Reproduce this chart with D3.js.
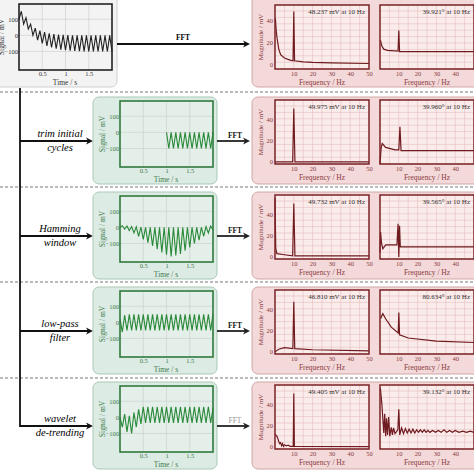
<!DOCTYPE html>
<html><head><meta charset="utf-8">
<script src="https://cdn.jsdelivr.net/npm/d3@7"></script>
<style>body{margin:0;background:#fff}</style></head>
<body><svg id="c" width="474" height="474"></svg>
<script>
// ---------- DATA ----------
const timeStep = 0.05; // s between extrema samples
const timeTicks = [0.5, 1, 1.5];
const signalTicks = [100, 0, -100];
const freqTicks = [10, 20, 30, 40, 50];
const magTicks = [0, 20, 40];
const rowLabels = [["trim initial","cycles"],["Hamming","window"],["low-pass","filter"],["wavelet","de-trending"]];
const magNotes = ["48.237 mV at 10 Hz","49.975 mV at 10 Hz","49.732 mV at 10 Hz","46.810 mV at 10 Hz","49.405 mV at 10 Hz"];
const phaseNotes = ["39.921° at 10 Hz","39.960° at 10 Hz","39.565° at 10 Hz","80.634° at 10 Hz","39.132° at 10 Hz"];

const sigOriginal = [100,150,70,110,40,70,0,45,-30,30,-50,20,-65,12,-75,8,-82,5,-88,3,-92,2,-95,1,-97,0,-98,0,-99,0,-100,0,-100,0,-100,0,-100,0,-100,0,-100];
const sigTrim = [null,null,null,null,null,null,null,null,null,null,null,null,null,null,null,null,null,null,null,null,0,-100,0,-100,0,-100,0,-100,0,-100,0,-100,0,-100,0,-100,0,-100,0,-100,0];
const sigHamming = [0,10,-10,8,-20,5,-35,3,-55,2,-75,0,-95,0,-115,0,-135,0,-155,0,-170,0,-180,0,-175,0,-165,0,-145,0,-125,0,-100,0,-80,0,-55,5,-35,8,-15];
const sigLowpass = [20,-60,45,-50,50,-50,50,-50,50,-50,50,-50,50,-50,50,-50,50,-50,50,-50,50,-50,50,-50,50,-50,50,-50,50,-50,50,-50,50,-50,50,-50,50,-50,50,-50,50];
const sigWavelet = [0,-60,20,-90,10,-100,30,-60,50,-40,65,-35,65,-35,65,-35,65,-35,65,-35,65,-35,65,-35,65,-35,65,-35,65,-35,65,-35,65,-35,65,-35,65,-35,65,-35,60];

const magOriginal = [[0.2,42],[0.6,32],[1,25],[2,14],[3,9],[5,6],[8,4],[9.6,3.5],[10,48],[10.4,3.5],[15,2.5],[20,2],[30,1.5],[50,1]];
const phaseOriginal = [[0.2,45],[1,36],[2,31],[4,29],[9.6,28],[10,60],[10.4,27],[50,27]];
const magTrim = [[0,0],[9.4,0],[10,50],[10.6,0],[50,0]];
const phaseTrim = [[0,0],[0.6,25],[1.2,32],[3,26],[8,22],[10,22],[10.6,58],[11.2,21],[50,21]];
const magHamming = [[0,55],[0.4,8],[1,3],[5,2],[9.4,1],[10,50],[10.6,1],[50,1]];
const phaseHamming = [[0,10],[0.3,42],[0.8,25],[1.5,16],[3,22],[9,22],[9.6,55],[10,3],[10.4,52],[10.8,19],[50,19]];
const magLowpass = [[0,0],[2,2.5],[5,4],[9.5,3],[10,47],[10.5,3],[20,2],[50,1]];
const phaseLowpass = [[0.3,55],[1.5,63],[3,55],[6,42],[9.7,33],[10,65],[10.4,30],[15,25],[30,20],[50,18]];
const magWavelet = [[0,12],[1,10],[1.5,8],[2,5],[2.5,3],[3,4],[3.5,1],[4,3],[4.5,0.5],[5,2],[6,1],[7,1.5],[8,0.5],[9.7,0.5],[10,50],[10.3,0.5],[50,0.3]];
const phaseWavelet = [[0.2,95],[1,70],[2,25],[2.5,55],[3,20],[3.5,48],[4,22],[4.6,50],[5.2,20],[6,34],[6.6,22],[7.2,33],[8,24],[9.5,30],[10,62],[10.5,22],[11.5,33],[12.5,24],[13.5,32],[14.5,25],[15.5,31],[16.5,25],[17.5,31],[18.5,25],[19.5,30],[20.5,26],[21.5,30],[22.5,26],[23.5,30],[24.5,26],[25.5,29],[26.5,26],[28,29],[29.5,26],[31,29],[32.5,26],[34,30],[35.5,26],[37,29],[38.5,26],[40,29],[42,26],[44,28],[46,26],[48,28],[50,26]];

const signals = [sigOriginal, sigTrim, sigHamming, sigLowpass, sigWavelet];
const mags = [magOriginal, magTrim, magHamming, magLowpass, magWavelet];
const phases = [phaseOriginal, phaseTrim, phaseHamming, phaseLowpass, phaseWavelet];

// ---------- DRAW ----------
const svg = d3.select("#c");
const SERIF = "Liberation Serif, DejaVu Serif, serif";
const rowTop = [2, 97, 192, 287, 382];

function roundBox(x,y,w,h,fill,stroke){
  svg.append("rect").attr("x",x).attr("y",y).attr("width",w).attr("height",h).attr("rx",6)
    .attr("fill",fill).attr("stroke",stroke).attr("stroke-width",1);
}

function signalPanel(x0,y0,vals,frame,lineC,bg,labC){
  const x = d3.scaleLinear().domain([0,2]).range([x0, x0+93]);
  const y = d3.scaleLinear().domain([-215,195]).range([y0+66, y0]);
  const g = svg.append("g");
  g.append("rect").attr("x",x0).attr("y",y0).attr("width",93).attr("height",66).attr("fill",bg);
  g.selectAll(".gv").data(timeTicks).join("line").attr("x1",d=>x(d)).attr("x2",d=>x(d)).attr("y1",y0).attr("y2",y0+66).attr("stroke","#ccc").attr("stroke-width",0.6);
  g.selectAll(".gh").data(signalTicks).join("line").attr("y1",d=>y(d)).attr("y2",d=>y(d)).attr("x1",x0).attr("x2",x0+93).attr("stroke","#ccc").attr("stroke-width",0.6);
  const line = d3.line().defined(d=>d!==null).x((d,i)=>x(i*timeStep)).y(d=>y(d));
  g.append("path").datum(vals).attr("d",line).attr("fill","none").attr("stroke",lineC).attr("stroke-width",1.1);
  g.append("rect").attr("x",x0).attr("y",y0).attr("width",93).attr("height",66).attr("fill","none").attr("stroke",frame).attr("stroke-width",1.6);
  const ax = g.append("g").attr("transform",`translate(0,${y0+66})`).call(d3.axisBottom(x).tickValues(timeTicks).tickSize(0).tickPadding(1).tickFormat(d3.format("")));
  const ay = g.append("g").attr("transform",`translate(${x0},0)`).call(d3.axisLeft(y).tickValues(signalTicks).tickSize(0).tickPadding(1));
  [ax,ay].forEach(a=>{a.select(".domain").remove();a.selectAll("text").attr("font-family",SERIF).attr("font-size",6.5).attr("fill",labC);});
  g.append("text").attr("x",x0+46).attr("y",y0+81).attr("text-anchor","middle").attr("font-family",SERIF).attr("font-size",7.5).attr("fill",labC).text("Time / s");
  g.append("text").attr("transform",`translate(${x0-15},${y0+33}) rotate(-90)`).attr("text-anchor","middle").attr("font-family",SERIF).attr("font-size",7.5).attr("fill",labC).text("Signal / mV");
}

function specPanel(x0,y0,pts,yDom,note,showY,xt){
  const x = d3.scaleLinear().domain([0,50]).range([x0, x0+94]);
  const y = d3.scaleLinear().domain(yDom).range([y0+64, y0]);
  const g = svg.append("g");
  g.append("rect").attr("x",x0).attr("y",y0).attr("width",94).attr("height",64).attr("fill","#fbecec");
  const fx = d3.range(5,50,5), fy = d3.range(y0+6,y0+64,6.4);
  g.selectAll(".gv").data(fx).join("line").attr("x1",d=>x(d)).attr("x2",d=>x(d)).attr("y1",y0).attr("y2",y0+64).attr("stroke","#e6bcbc").attr("stroke-width",0.6);
  g.selectAll(".gh").data(fy).join("line").attr("y1",d=>d).attr("y2",d=>d).attr("x1",x0).attr("x2",x0+94).attr("stroke","#e6bcbc").attr("stroke-width",0.6);
  g.append("path").datum(pts).attr("d",d3.line().x(d=>x(d[0])).y(d=>y(d[1]))).attr("fill","none").attr("stroke","#6e1a1e").attr("stroke-width",1.2);
  g.append("rect").attr("x",x0).attr("y",y0).attr("width",94).attr("height",64).attr("fill","none").attr("stroke","#7a2226").attr("stroke-width",1.5);
  const ax = g.append("g").attr("transform",`translate(0,${y0+64})`).call(d3.axisBottom(x).tickValues(xt).tickSize(0).tickPadding(2));
  ax.select(".domain").remove();
  ax.selectAll("text").attr("font-family",SERIF).attr("font-size",6.5).attr("fill","#8a3a3e");
  if(showY){
    const ay = g.append("g").attr("transform",`translate(${x0},0)`).call(d3.axisLeft(y).tickValues(magTicks).tickSize(0).tickPadding(2));
    ay.select(".domain").remove();
    ay.selectAll("text").attr("font-family",SERIF).attr("font-size",6.5).attr("fill","#8a3a3e");
    g.append("text").attr("transform",`translate(${x0-12},${y0+32}) rotate(-90)`).attr("text-anchor","middle").attr("font-family",SERIF).attr("font-size",7).attr("fill","#8a3a3e").text("Magnitude / mV");
  }
  g.append("text").attr("x",x0+90).attr("y",y0+9).attr("text-anchor","end").attr("font-family",SERIF).attr("font-size",7).attr("fill","#333").text(note);
  g.append("text").attr("x",x0+47).attr("y",y0+80).attr("text-anchor","middle").attr("font-family",SERIF).attr("font-size",7.5).attr("fill","#8a3a3e").text("Frequency / Hz");
}

function arrow(x1,y1,x2,y2,c,w){
  svg.append("line").attr("x1",x1).attr("y1",y1).attr("x2",x2-4).attr("y2",y2).attr("stroke",c).attr("stroke-width",w);
  svg.append("path").attr("d",`M${x2},${y2} L${x2-7},${y2-3.5} L${x2-5},${y2} L${x2-7},${y2+3.5} Z`).attr("fill",c);
}

// separators
[92,187,282,378].forEach(yy=>svg.append("line").attr("x1",0).attr("x2",474).attr("y1",yy).attr("y2",yy).attr("stroke","#777").attr("stroke-dasharray","3,2").attr("stroke-width",1));

// top row
roundBox(-6,-6,123,93,"#f3f3f3","#cfcfcf");
signalPanel(19,4,signals[0],"#222","#222","#f3f3f3","#333");
arrow(117,44,250,44,"#111",1.8);
svg.append("text").attr("x",183).attr("y",40).attr("text-anchor","middle").attr("font-family",SERIF).attr("font-size",7.5).attr("font-weight","bold").text("FFT");
roundBox(252,-6,230,93,"#f3d9d9","#d2a6a6");
specPanel(275,5,mags[0],[-4,54],magNotes[0],true,freqTicks);
specPanel(380,5,phases[0],[0,100],phaseNotes[0],false,[10,20,30,40]);

// vertical trunk
svg.append("line").attr("x1",20).attr("x2",20).attr("y1",88).attr("y2",427).attr("stroke","#111").attr("stroke-width",1.8);

for(let r=1;r<5;r++){
  const t = rowTop[r];
  const ay = t+44;
  arrow(20,ay,93,ay,"#111",1.8);
  const lab = rowLabels[r-1];
  svg.append("text").attr("x",60).attr("y",ay-4).attr("text-anchor","middle").attr("font-family",SERIF).attr("font-style","italic").attr("font-size",10.5).text(lab[0]);
  svg.append("text").attr("x",60).attr("y",ay+10).attr("text-anchor","middle").attr("font-family",SERIF).attr("font-style","italic").attr("font-size",10.5).text(lab[1]);
  roundBox(93,t,124,87,"#dcebe3","#a9c9b6");
  signalPanel(120,t+4,signals[r],"#2f7a3c","#2a8a3a","#e3efe8","#3d7a4d");
  arrow(217,ay,250,ay,"#222",1.8);
  svg.append("text").attr("x",235).attr("y",ay-3).attr("text-anchor","middle").attr("font-family",SERIF).attr("font-size",7.5).attr("font-weight",r===4?"normal":"bold").attr("fill",r===4?"#999":"#111").text("FFT");
  roundBox(252,t,230,87,"#f3d9d9","#d2a6a6");
  specPanel(275,t+3,mags[r],[-2,58],magNotes[r],true,freqTicks);
  specPanel(380,t+3,phases[r],[0,100],phaseNotes[r],false,[10,20,30,40]);
}
</script></body></html>
